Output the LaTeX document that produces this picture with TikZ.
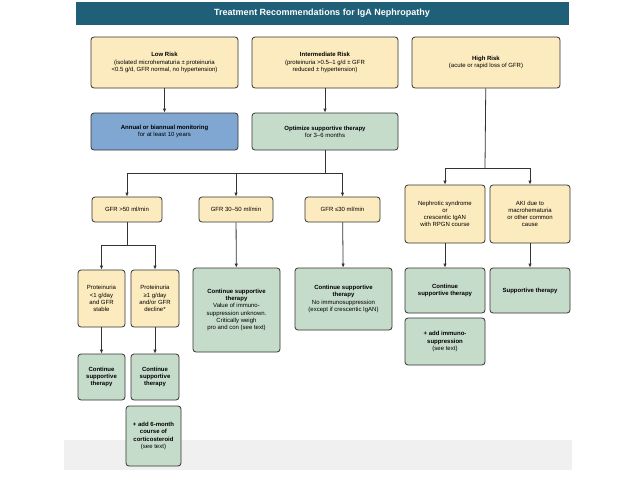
\documentclass[tikz,border=0pt]{standalone}
\usepackage{fontspec}
\setmainfont{Liberation Sans}
\usetikzlibrary{arrows.meta}
\definecolor{teal}{HTML}{1F6078}
\definecolor{yel}{HTML}{FCEBBE}
\definecolor{grn}{HTML}{C6DCCB}
\definecolor{blu}{HTML}{7FA7D2}
\begin{document}
\begin{tikzpicture}[x=1pt,y=-1pt,
 bx/.style={draw=black!80,line width=0.8pt,rounded corners=3pt,align=center,inner sep=0pt,font=\fontsize{6}{7.2}\selectfont},
 yb/.style={bx,fill=yel},gb/.style={bx,fill=grn},bb/.style={bx,fill=blu},
 ar/.style={draw=black!80,line width=0.8pt,-{Latex[length=4pt,width=3.5pt]}},
 ln/.style={draw=black!80,line width=0.8pt}]
\useasboundingbox (0,0) rectangle (638,479);
\fill[white] (0,0) rectangle (638,479);
\fill[black!6] (64,440) rectangle (572,470);
\fill[teal] (76,2) rectangle (569,25);
\node[text=white,font=\fontsize{9}{10}\selectfont\bfseries] (title) at (322,13.5) {Treatment Recommendations for IgA Nephropathy};
\newcommand{\bxat}[6]{\node[#1,minimum width=#4-#2,minimum height=#5-#3] (#6) at ({(#2+#4)/2},{(#3+#5)/2})}
\bxat{yb}{91}{37}{238}{88}{low} {\textbf{Low Risk}\\(isolated microhematuria ± proteinuria\\<0.5 g/d, GFR normal, no hypertension)};
\bxat{yb}{252}{37}{398}{88}{int} {\textbf{Intermediate Risk}\\(proteinuria >0.5–1 g/d ± GFR\\reduced ± hypertension)};
\bxat{yb}{412}{37}{560}{88}{high} {\textbf{High Risk}\\(acute or rapid loss of GFR)};
\bxat{bb}{91}{113}{238}{150}{ann} {\textbf{Annual or biannual monitoring}\\for at least 10 years};
\bxat{gb}{252}{113}{398}{150}{opt} {\textbf{Optimize supportive therapy}\\for 3–6 months};
\bxat{yb}{92}{197}{162}{222}{g1} {GFR >50 ml/min};
\bxat{yb}{199}{197}{273}{222}{g2} {GFR 30–50 ml/min};
\bxat{yb}{305}{197}{380}{222}{g3} {GFR ≤30 ml/min};
\bxat{yb}{405}{185}{485}{243}{neph} {Nephrotic syndrome\\or\\crescentic IgAN\\with RPGN course};
\bxat{yb}{490}{185}{570}{243}{aki} {AKI due to\\macrohematuria\\or other common\\cause};
\bxat{yb}{78}{270}{125}{327}{p1} {Proteinuria\\<1 g/day\\and GFR\\stable};
\bxat{yb}{131}{270}{179}{327}{p2} {Proteinuria\\≥1 g/day\\and/or GFR\\decline*};
\bxat{gb}{193}{268}{280}{352}{c2} {\textbf{Continue supportive}\\\textbf{therapy}\\Value of immuno-\\suppression unknown.\\Critically weigh\\pro and con (see text)};
\bxat{gb}{295}{268}{392}{330}{c3} {\textbf{Continue supportive}\\\textbf{therapy}\\No immunosuppression\\(except if crescentic IgAN)};
\bxat{gb}{405}{268}{485}{313}{cn} {\textbf{Continue}\\\textbf{supportive therapy}};
\bxat{gb}{405}{318}{485}{365}{imm} {\textbf{+ add immuno-}\\\textbf{suppression}\\(see text)};
\bxat{gb}{490}{268}{570}{313}{sup} {\textbf{Supportive therapy}};
\bxat{gb}{78}{354}{125}{400}{cp1} {\textbf{Continue}\\\textbf{supportive}\\\textbf{therapy}};
\bxat{gb}{131}{354}{179}{400}{cp2} {\textbf{Continue}\\\textbf{supportive}\\\textbf{therapy}};
\bxat{gb}{126}{406}{181}{466}{cort} {\textbf{+ add 6-month}\\\textbf{course of}\\\textbf{corticosteroid}\\(see text)};
\draw[ar] (low) -- (ann);
\draw[ar] (int) -- (opt);
\coordinate (h) at (485,168);
\draw[ln] (high) -- (h);
\draw[ar] (h) -| (neph);
\draw[ar] (h) -| (aki);
\coordinate (o) at (325,173);
\draw[ln] (opt) -- (o);
\draw[ar] (o) -| (g1);
\draw[ar] (o) -| (g2);
\draw[ar] (o) -| (g3);
\coordinate (gg) at (127,245);
\draw[ln] (g1.south) -- (gg);
\draw[ar] (gg) -| (p1);
\draw[ar] (gg) -| (p2);
\draw[ar] (g2) -- (c2);
\draw[ar] (g3) -- (c3);
\draw[ar] (neph) -- (cn);
\draw[ar] (aki) -- (sup);
\draw[ar] (p1) -- (cp1);
\draw[ar] (p2) -- (cp2);
\end{tikzpicture}
\end{document}
